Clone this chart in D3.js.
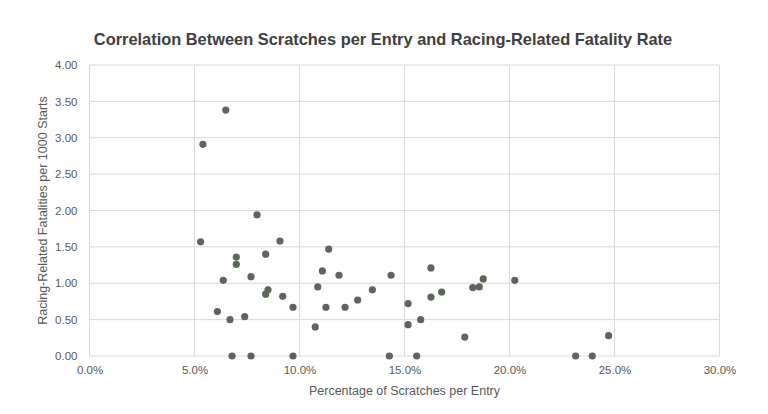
<!DOCTYPE html>
<html>
<head>
<meta charset="utf-8">
<script src="https://cdn.jsdelivr.net/npm/d3@7"></script>
<style>
  body { margin: 0; background: #fff; }
  svg { font-family: "Liberation Sans", Arial, sans-serif; }
</style>
</head>
<body>
<svg id="drawing_region"></svg>
<script>
// scratches per entry (%) and fatalities per 1000 starts
const scratchPct = [6.49, 5.40, 7.98, 5.29, 9.07, 11.39, 6.99, 8.39, 6.99, 11.09,
    11.88, 6.37, 7.69, 10.87, 13.47, 8.50, 8.39, 9.20, 12.77, 9.69,
    11.26, 12.17, 6.09, 7.39, 6.69, 10.75, 6.79, 7.69, 9.69,
    14.36, 16.26, 18.75, 20.25, 18.25, 18.56, 16.77, 16.26, 15.17, 15.77,
    15.17, 17.87, 24.72, 14.28, 15.58, 23.15, 23.94];
const fatalityRate = [3.38, 2.91, 1.94, 1.57, 1.58, 1.47, 1.36, 1.40, 1.26, 1.17,
    1.11, 1.04, 1.09, 0.95, 0.91, 0.91, 0.85, 0.82, 0.77, 0.67,
    0.67, 0.67, 0.61, 0.54, 0.50, 0.40, 0, 0, 0,
    1.11, 1.21, 1.06, 1.04, 0.94, 0.95, 0.88, 0.81, 0.72, 0.50,
    0.43, 0.26, 0.28, 0, 0, 0, 0];
const xTicks = [0, 5, 10, 15, 20, 25, 30];
const yTicks = [0, 0.5, 1, 1.5, 2, 2.5, 3, 3.5, 4];

const title = 'Correlation Between Scratches per Entry and Racing-Related Fatality Rate';
const xTitle = 'Percentage of Scratches per Entry';
const yTitle = 'Racing-Related Fatalities per 1000 Starts';

const width = 768, height = 414;
const margin = {top: 65, right: 48.5, bottom: 58, left: 89.5};

const svg = d3.select('#drawing_region')
    .attr('width', width)
    .attr('height', height);

const x = d3.scaleLinear().domain([0, 30]).range([margin.left, width - margin.right]);
const y = d3.scaleLinear().domain([0, 4]).range([height - margin.bottom, margin.top]);

// gridlines
svg.append('g')
    .selectAll('line')
    .data(xTicks)
    .join('line')
    .attr('x1', d => x(d)).attr('x2', d => x(d))
    .attr('y1', y(0)).attr('y2', y(4))
    .attr('stroke', '#d9d9d9')
    .attr('stroke-width', 1);

svg.append('g')
    .selectAll('line')
    .data(yTicks)
    .join('line')
    .attr('x1', x(0)).attr('x2', x(30))
    .attr('y1', d => y(d)).attr('y2', d => y(d))
    .attr('stroke', '#d9d9d9')
    .attr('stroke-width', 1);

// axes (labels only)
const xAxis = svg.append('g')
    .attr('transform', `translate(0, ${y(0)})`)
    .call(d3.axisBottom(x).tickValues(xTicks).tickSize(0).tickPadding(10)
        .tickFormat(d => d.toFixed(1) + '%'));
xAxis.select('.domain').remove();
xAxis.selectAll('text').attr('fill', '#595959').attr('font-size', 11.5)
    .attr('font-family', '"Liberation Sans", Arial, sans-serif');

const yAxis = svg.append('g')
    .attr('transform', `translate(${x(0)}, 0)`)
    .call(d3.axisLeft(y).tickValues(yTicks).tickSize(0).tickPadding(12)
        .tickFormat(d3.format('.2f')));
yAxis.select('.domain').remove();
yAxis.selectAll('text').attr('fill', '#595959').attr('font-size', 11.5)
    .attr('font-family', '"Liberation Sans", Arial, sans-serif');

// points
const points = scratchPct.map((v, i) => ({x: v, y: fatalityRate[i]}));
svg.append('g')
    .selectAll('circle')
    .data(points)
    .join('circle')
    .attr('cx', d => x(d.x))
    .attr('cy', d => y(d.y))
    .attr('r', 3.6)
    .attr('fill', '#5c6659');

// titles
svg.append('text')
    .attr('x', 383)
    .attr('y', 45)
    .attr('text-anchor', 'middle')
    .attr('font-size', 16.4)
    .attr('font-weight', 'bold')
    .attr('fill', '#404040')
    .text(title);

svg.append('text')
    .attr('x', (x(0) + x(30)) / 2)
    .attr('y', 395)
    .attr('text-anchor', 'middle')
    .attr('font-size', 12.5)
    .attr('fill', '#595959')
    .text(xTitle);

svg.append('text')
    .attr('transform', `translate(47, ${(y(0) + y(4)) / 2}) rotate(-90)`)
    .attr('text-anchor', 'middle')
    .attr('font-size', 12.5)
    .attr('fill', '#595959')
    .text(yTitle);
</script>
</body>
</html>
